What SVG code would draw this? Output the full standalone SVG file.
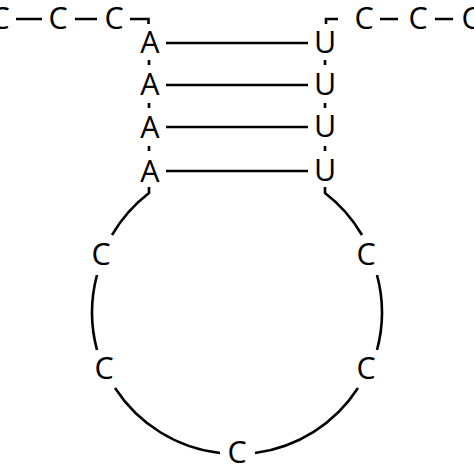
<svg xmlns="http://www.w3.org/2000/svg" width="474" height="474" viewBox="0 0 474 474">
<style>
text{font-family:"Open Sans","DejaVu Sans",sans-serif;font-size:30.5px;fill:#000;text-anchor:middle}
.l{stroke:#000;stroke-width:2.6;fill:none}
.d{stroke:#000;stroke-width:2.6;fill:none;stroke-dasharray:5 38}
</style>
<rect width="474" height="474" fill="#fff"/>
<g id="connectors">
<path class="l" d="M16 19H42M75 19H97M130 19H148.5V24"/>
<path class="l" d="M326 24V19H338M380 19H398M435 19H453"/>
<path class="l" d="M166 43H308M166 85H308M166 127H308M166 171H308"/>
<path class="d" d="M149 60V160"/>
<path class="d" d="M325 60V160"/>
<path class="l" d="M149 187V193A145 145 0 0 0 112 235"/>
<path class="l" d="M97 275A145 145 0 0 0 97 350"/>
<path class="l" d="M115 388A145 145 0 0 0 220 453"/>
<path class="l" d="M255 453A145 145 0 0 0 358 388"/>
<path class="l" d="M377 350A145 145 0 0 0 377 275"/>
<path class="l" d="M362 235A145 145 0 0 0 325 193V187"/>
</g>
<g id="c5a"><text x="0" y="29">C</text></g>
<g id="c5b"><text x="58" y="29">C</text></g>
<g id="c5c"><text x="114" y="29">C</text></g>
<g id="a1"><text x="150" y="53">A</text></g>
<g id="a2"><text x="150" y="95">A</text></g>
<g id="a3"><text x="150" y="138">A</text></g>
<g id="a4"><text x="150" y="182">A</text></g>
<g id="u1"><text x="325" y="53">U</text></g>
<g id="u2"><text x="325" y="95">U</text></g>
<g id="u3"><text x="325" y="137">U</text></g>
<g id="u4"><text x="325" y="181">U</text></g>
<g id="c3a"><text x="364" y="29">C</text></g>
<g id="c3b"><text x="418" y="29">C</text></g>
<g id="c3c"><text x="471" y="29">C</text></g>
<g id="l1"><text x="101" y="265">C</text></g>
<g id="l2"><text x="104" y="379">C</text></g>
<g id="l3"><text x="237" y="463">C</text></g>
<g id="l4"><text x="366" y="379">C</text></g>
<g id="l5"><text x="366" y="265">C</text></g>
</svg>
